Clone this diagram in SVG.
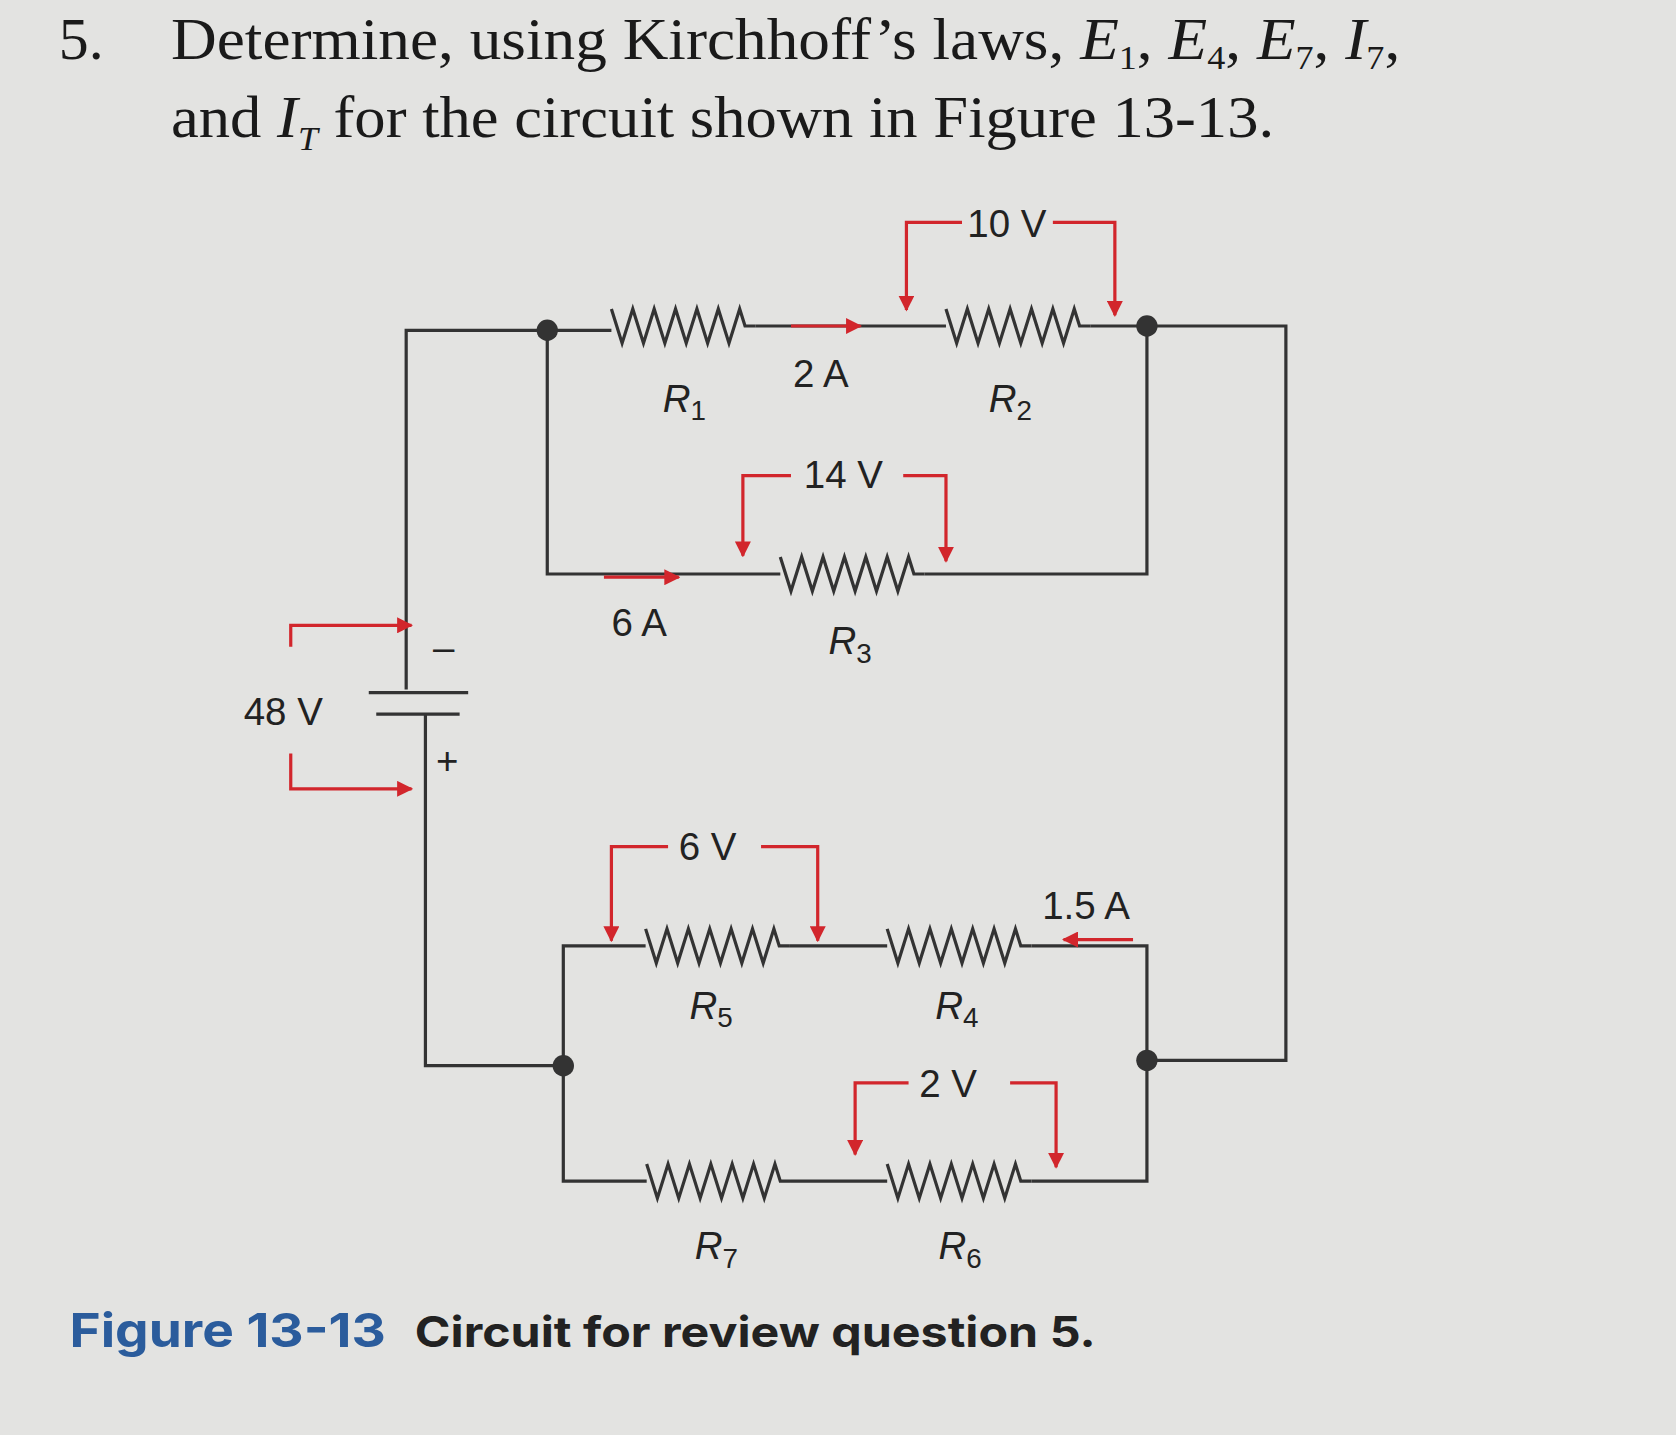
<svg xmlns="http://www.w3.org/2000/svg" width="1676" height="1435" viewBox="0 0 1676 1435">
<style>
.w{fill:none;stroke:#333;stroke-width:3}
.r{fill:none;stroke:#d2262c;stroke-width:3}
.t{font-family:"Liberation Sans",Arial,sans-serif;font-size:36px;fill:#222}
.s{font-family:"Liberation Sans",Arial,sans-serif;font-size:36px;fill:#222;font-style:italic}
.ti{font-family:"Liberation Serif","Times New Roman",serif;font-size:56px;fill:#1a1a1a}
</style>
<defs>
<marker id="a" viewBox="0 0 10 10" refX="9" refY="5" markerWidth="5" markerHeight="5" orient="auto-start-reverse"><path d="M0,0L10,5L0,10z" fill="#d2262c"/></marker>
<path id="z" d="M0,-16 L10,16 L20,-16 L30,16 L40,-16 L50,16 L60,-16 L70,16 L80,-16 L90,16 L100,-16 L110,16 L120,-16 L125,0 L135,0" class="w"/>
</defs>
<rect width="1676" height="1435" fill="#e3e3e1"/>
<g transform="scale(1.0689)">
<g id="title">
<text class="ti" x="55" y="55">5.</text>
<text class="ti" x="160" y="55" textLength="1150" lengthAdjust="spacingAndGlyphs">Determine, using Kirchhoff’s laws, <tspan font-style="italic">E</tspan><tspan font-size="32" dy="10">1</tspan><tspan dy="-10">, </tspan><tspan font-style="italic">E</tspan><tspan font-size="32" dy="10">4</tspan><tspan dy="-10">, </tspan><tspan font-style="italic">E</tspan><tspan font-size="32" dy="10">7</tspan><tspan dy="-10">, </tspan><tspan font-style="italic">I</tspan><tspan font-size="32" dy="10">7</tspan><tspan dy="-10">,</tspan></text>
<text class="ti" x="160" y="128" textLength="1032" lengthAdjust="spacingAndGlyphs">and <tspan font-style="italic">I</tspan><tspan font-size="32" dy="12" font-style="italic">T</tspan><tspan dy="-12"> for the circuit shown in Figure 13-13.</tspan></text>
</g>
<g id="wires">
<path class="w" d="M512,309 H380 V645 M398,668 V997 H527 M512,309 H572 M707,305 H885 M1020,305 H1203 V992 H1073"/>
<path class="w" d="M512,309 V537 H730 M865,537 H1073 V305"/>
<path class="w" d="M527,997 V885 H604 M739,885 H830 M965,885 H1073 V1105 H965 M830,1105 H740 M605,1105 H527 V997"/>
<path class="w" d="M345,648 H438 M352,668 H430" stroke-width="4"/>
<circle cx="512" cy="309" r="10" fill="#333"/><circle cx="1073" cy="305" r="10" fill="#333"/>
<circle cx="527" cy="997" r="10" fill="#333"/><circle cx="1073" cy="992" r="10" fill="#333"/>
</g>
<g id="R1"><use href="#z" x="572" y="305"/><text class="s" x="620" y="385">R<tspan font-size="26" dy="8" font-style="normal">1</tspan></text></g>
<g id="R2"><use href="#z" x="885" y="305"/><text class="s" x="925" y="385">R<tspan font-size="26" dy="8" font-style="normal">2</tspan></text></g>
<g id="R3"><use href="#z" x="730" y="537"/><text class="s" x="775" y="612">R<tspan font-size="26" dy="8" font-style="normal">3</tspan></text></g>
<g id="R5"><use href="#z" x="604" y="885"/><text class="s" x="645" y="953">R<tspan font-size="26" dy="8" font-style="normal">5</tspan></text></g>
<g id="R4"><use href="#z" x="830" y="885"/><text class="s" x="875" y="953">R<tspan font-size="26" dy="8" font-style="normal">4</tspan></text></g>
<g id="R7"><use href="#z" x="605" y="1105"/><text class="s" x="650" y="1178">R<tspan font-size="26" dy="8" font-style="normal">7</tspan></text></g>
<g id="R6"><use href="#z" x="830" y="1105"/><text class="s" x="878" y="1178">R<tspan font-size="26" dy="8" font-style="normal">6</tspan></text></g>
<g id="battery"><text class="t" x="228" y="678">48 V</text><text class="t" x="405" y="618">–</text><text class="t" x="408" y="724">+</text></g>
<g id="labels">
<path class="r" d="M900,208 H848 V290" marker-end="url(#a)"/>
<path class="r" d="M985,208 H1043 V295" marker-end="url(#a)"/>
<text class="t" x="905" y="222">10 V</text>
<path class="r" d="M740,305 H805" marker-end="url(#a)"/><text class="t" x="742" y="362">2 A</text>
<path class="r" d="M740,445 H695 V520" marker-end="url(#a)"/><path class="r" d="M845,445 H885 V525" marker-end="url(#a)"/>
<text class="t" x="752" y="457">14 V</text>
<path class="r" d="M565,540 H635" marker-end="url(#a)"/><text class="t" x="572" y="595">6 A</text>
<path class="r" d="M272,605 V585 H385" marker-end="url(#a)"/><path class="r" d="M272,705 V738 H385" marker-end="url(#a)"/>
<path class="r" d="M625,792 H572 V880" marker-end="url(#a)"/><path class="r" d="M712,792 H765 V880" marker-end="url(#a)"/>
<text class="t" x="635" y="805">6 V</text>
<path class="r" d="M1060,879 H995" marker-end="url(#a)"/><text class="t" x="975" y="860">1.5 A</text>
<path class="r" d="M850,1013 H800 V1080" marker-end="url(#a)"/><path class="r" d="M945,1013 H988 V1092" marker-end="url(#a)"/>
<text class="t" x="860" y="1026">2 V</text>
</g>
<g id="caption"><text x="65" y="1260" font-family="Inter,'Open Sans',sans-serif" font-weight="bold" font-size="44" textLength="960" lengthAdjust="spacingAndGlyphs"><tspan fill="#2b5c9c">Figure 13-13</tspan><tspan fill="#222" font-size="40" dx="24">Circuit for review question 5.</tspan></text></g>
</g>
</svg>
